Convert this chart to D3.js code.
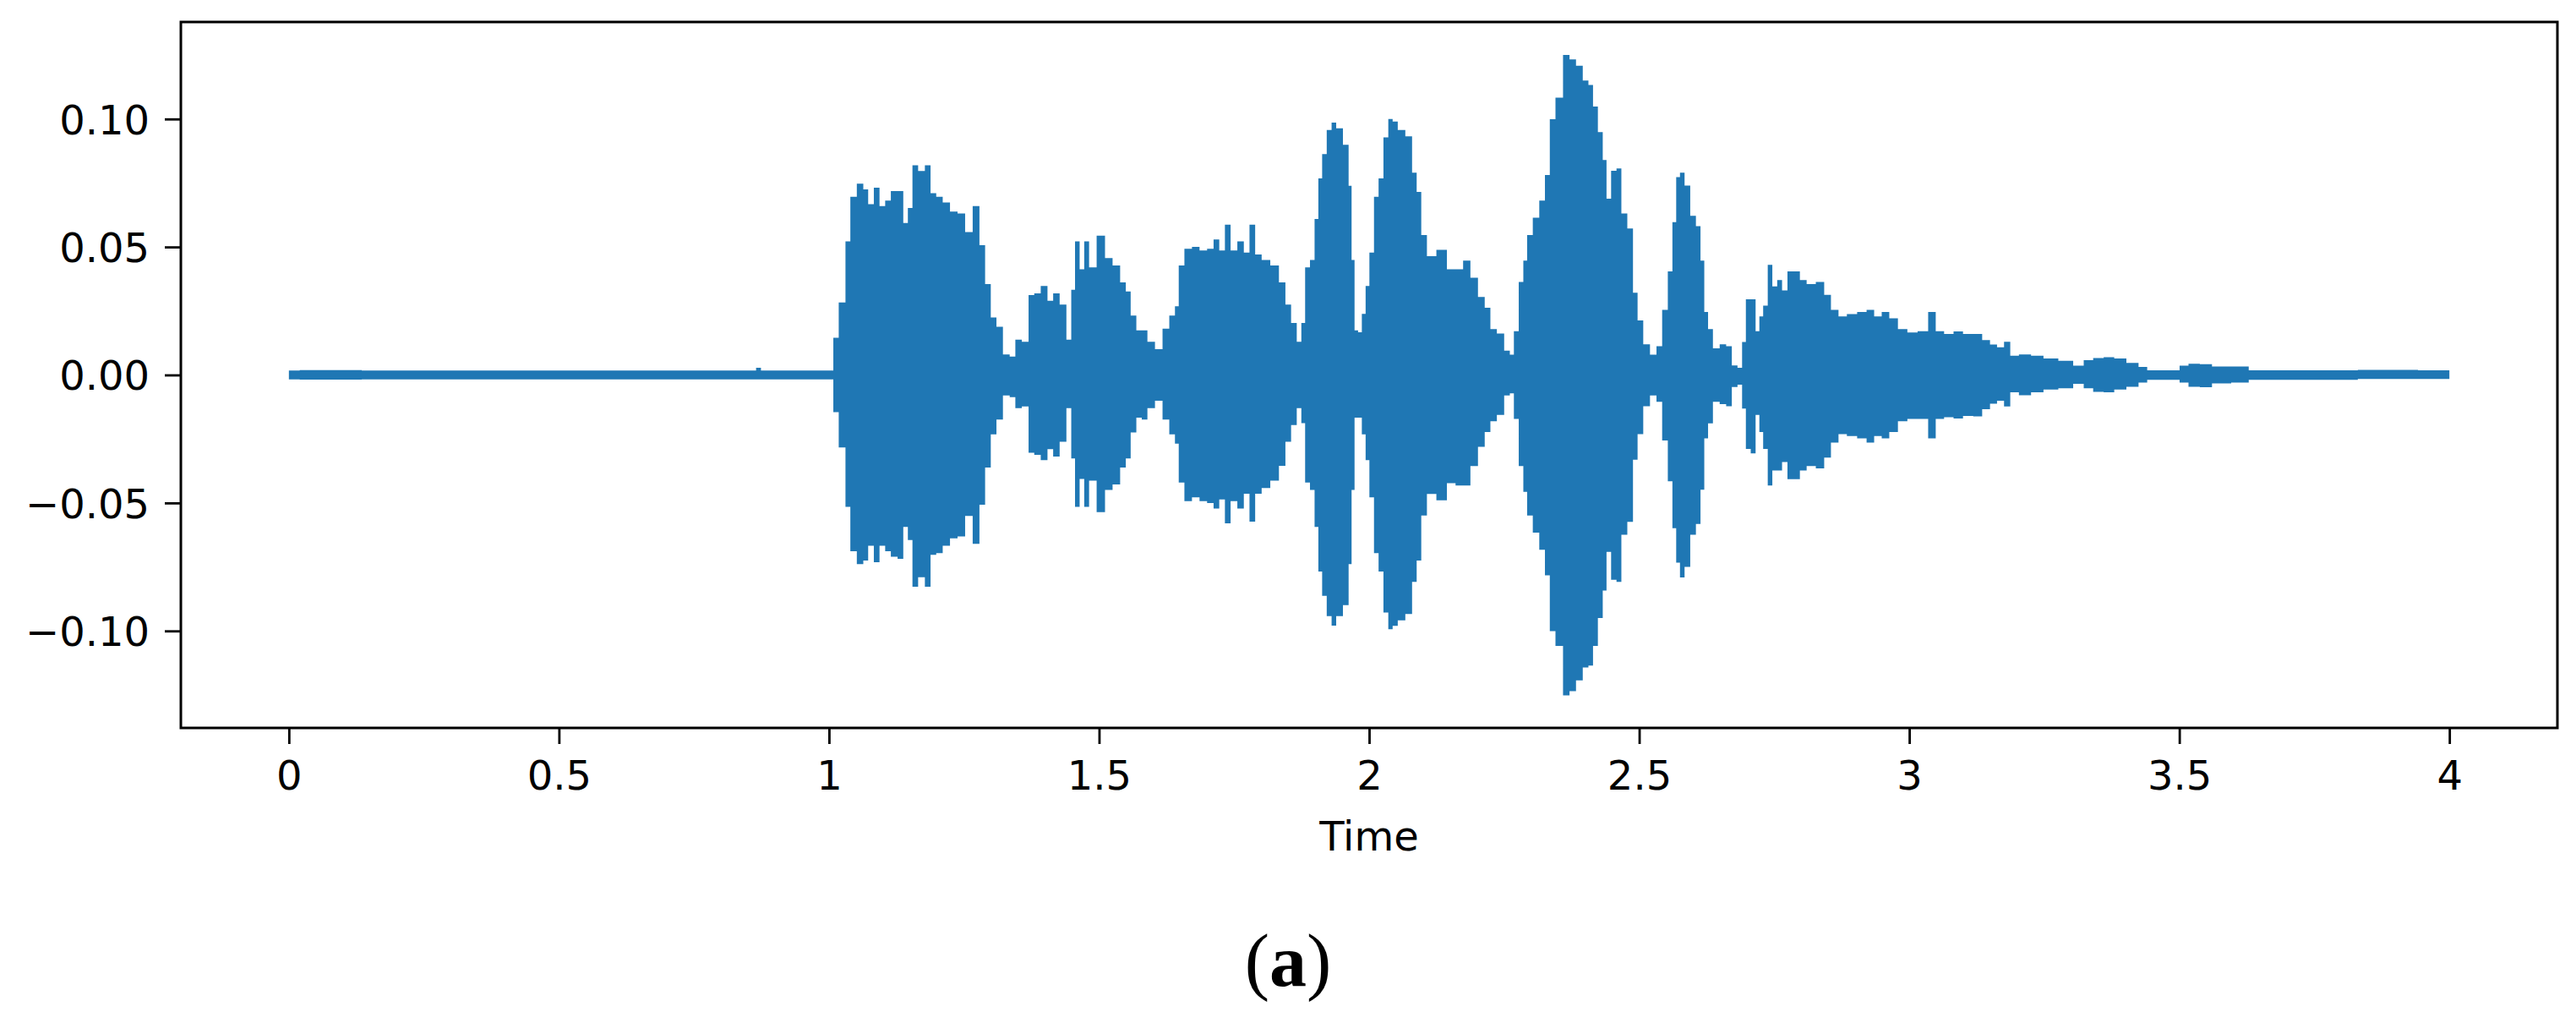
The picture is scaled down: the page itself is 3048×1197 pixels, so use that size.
<!DOCTYPE html>
<html><head><meta charset="utf-8">
<script src="https://cdn.jsdelivr.net/npm/d3@7"></script>
<style>html,body{margin:0;padding:0;background:#fff;} svg{display:block}</style>
</head><body>
<svg id="chart" width="3048" height="1197"></svg>
<script>
// Waveform envelope: time (s), upper and lower amplitude
const time = [0.000,0.040,0.120,0.150,0.860,0.870,0.878,1.005,1.011,1.025,1.036,1.043,1.060,1.067,1.078,1.088,1.099,1.109,1.120,1.134,1.141,1.151,1.158,1.172,1.183,1.193,1.204,1.217,1.231,1.245,1.259,1.273,1.284,1.294,1.305,1.315,1.329,1.340,1.350,1.364,1.375,1.385,1.399,1.410,1.420,1.434,1.445,1.452,1.459,1.469,1.476,1.487,1.504,1.518,1.532,1.546,1.553,1.564,1.574,1.584,1.595,1.612,1.623,1.637,1.644,1.651,1.665,1.679,1.693,1.707,1.717,1.728,1.738,1.749,1.763,1.773,1.784,1.794,1.808,1.826,1.840,1.850,1.861,1.871,1.878,1.885,1.896,1.902,1.910,1.916,1.927,1.934,1.944,1.959,1.965,1.970,1.976,1.983,1.990,1.997,2.004,2.014,2.021,2.032,2.039,2.048,2.058,2.076,2.083,2.093,2.100,2.114,2.135,2.153,2.167,2.181,2.194,2.209,2.219,2.230,2.243,2.257,2.264,2.272,2.282,2.289,2.296,2.310,2.320,2.331,2.338,2.352,2.366,2.376,2.390,2.401,2.411,2.418,2.429,2.436,2.443,2.453,2.463,2.471,2.485,2.492,2.502,2.513,2.527,2.537,2.548,2.558,2.565,2.572,2.579,2.589,2.600,2.610,2.617,2.624,2.631,2.642,2.656,2.666,2.677,2.687,2.694,2.701,2.712,2.719,2.726,2.733,2.743,2.750,2.761,2.768,2.781,2.792,2.803,2.817,2.837,2.848,2.862,2.876,2.893,2.914,2.928,2.942,2.956,2.970,2.988,3.005,3.026,3.044,3.054,3.075,3.089,3.110,3.127,3.143,3.156,3.169,3.182,3.192,3.214,3.237,3.260,3.292,3.315,3.331,3.350,3.370,3.389,3.415,3.434,3.447,3.492,3.509,3.525,3.551,3.570,3.622,3.635,3.777,3.884,4.000];
const upper = [0.0017,0.0019,0.0019,0.0017,0.0017,0.0028,0.0017,0.0017,0.0145,0.0283,0.0522,0.0696,0.0747,0.0725,0.0667,0.0732,0.0660,0.0681,0.0718,0.0718,0.0594,0.0652,0.0819,0.0797,0.0819,0.0710,0.0696,0.0674,0.0638,0.0631,0.0558,0.0660,0.0507,0.0355,0.0225,0.0188,0.0080,0.0072,0.0138,0.0130,0.0312,0.0319,0.0348,0.0290,0.0319,0.0275,0.0138,0.0333,0.0522,0.0413,0.0522,0.0420,0.0544,0.0457,0.0428,0.0362,0.0326,0.0232,0.0174,0.0174,0.0130,0.0101,0.0181,0.0232,0.0268,0.0428,0.0493,0.0500,0.0486,0.0493,0.0529,0.0486,0.0587,0.0486,0.0522,0.0478,0.0587,0.0471,0.0449,0.0428,0.0362,0.0275,0.0203,0.0130,0.0203,0.0420,0.0449,0.0609,0.0768,0.0863,0.0957,0.0986,0.0964,0.0899,0.0739,0.0449,0.0174,0.0167,0.0239,0.0348,0.0478,0.0696,0.0768,0.0928,0.1000,0.0990,0.0957,0.0932,0.0790,0.0715,0.0547,0.0464,0.0489,0.0413,0.0413,0.0447,0.0380,0.0305,0.0263,0.0179,0.0162,0.0095,0.0079,0.0171,0.0363,0.0447,0.0547,0.0614,0.0681,0.0781,0.0999,0.1083,0.1250,0.1233,0.1208,0.1150,0.1133,0.1049,0.0949,0.0840,0.0689,0.0798,0.0807,0.0631,0.0572,0.0321,0.0213,0.0120,0.0079,0.0112,0.0254,0.0405,0.0597,0.0773,0.0790,0.0740,0.0622,0.0581,0.0447,0.0246,0.0179,0.0104,0.0120,0.0112,0.0037,0.0028,0.0129,0.0296,0.0296,0.0171,0.0229,0.0271,0.0430,0.0346,0.0371,0.0330,0.0405,0.0405,0.0371,0.0355,0.0363,0.0313,0.0254,0.0229,0.0238,0.0246,0.0254,0.0229,0.0246,0.0221,0.0179,0.0166,0.0171,0.0246,0.0171,0.0160,0.0170,0.0160,0.0160,0.0136,0.0119,0.0108,0.0130,0.0075,0.0080,0.0075,0.0064,0.0055,0.0036,0.0058,0.0066,0.0069,0.0064,0.0047,0.0031,0.0018,0.0018,0.0036,0.0044,0.0042,0.0033,0.0033,0.0018,0.0018,0.0020,0.0018];
const lower = [-0.0017,-0.0018,-0.0018,-0.0017,-0.0017,-0.0017,-0.0017,-0.0017,-0.0145,-0.0283,-0.0515,-0.0689,-0.0739,-0.0725,-0.0667,-0.0732,-0.0667,-0.0689,-0.0710,-0.0718,-0.0594,-0.0645,-0.0827,-0.0790,-0.0827,-0.0703,-0.0696,-0.0667,-0.0638,-0.0631,-0.0551,-0.0660,-0.0507,-0.0362,-0.0232,-0.0174,-0.0080,-0.0087,-0.0130,-0.0123,-0.0304,-0.0312,-0.0333,-0.0290,-0.0319,-0.0261,-0.0130,-0.0326,-0.0515,-0.0406,-0.0515,-0.0413,-0.0536,-0.0449,-0.0428,-0.0362,-0.0326,-0.0225,-0.0167,-0.0174,-0.0130,-0.0101,-0.0174,-0.0232,-0.0268,-0.0420,-0.0493,-0.0478,-0.0493,-0.0500,-0.0522,-0.0486,-0.0580,-0.0493,-0.0522,-0.0464,-0.0573,-0.0464,-0.0442,-0.0413,-0.0355,-0.0261,-0.0196,-0.0130,-0.0188,-0.0420,-0.0449,-0.0594,-0.0768,-0.0863,-0.0942,-0.0979,-0.0942,-0.0899,-0.0739,-0.0449,-0.0167,-0.0167,-0.0232,-0.0333,-0.0478,-0.0696,-0.0768,-0.0928,-0.0993,-0.0980,-0.0959,-0.0934,-0.0808,-0.0725,-0.0549,-0.0465,-0.0490,-0.0423,-0.0432,-0.0432,-0.0356,-0.0281,-0.0223,-0.0181,-0.0156,-0.0080,-0.0072,-0.0172,-0.0356,-0.0457,-0.0549,-0.0616,-0.0683,-0.0783,-0.1001,-0.1059,-0.1252,-0.1235,-0.1193,-0.1143,-0.1135,-0.1059,-0.0950,-0.0842,-0.0691,-0.0800,-0.0808,-0.0624,-0.0574,-0.0331,-0.0231,-0.0122,-0.0080,-0.0105,-0.0256,-0.0415,-0.0599,-0.0733,-0.0791,-0.0750,-0.0624,-0.0582,-0.0448,-0.0248,-0.0189,-0.0105,-0.0114,-0.0122,-0.0047,-0.0038,-0.0131,-0.0289,-0.0306,-0.0156,-0.0223,-0.0289,-0.0432,-0.0373,-0.0373,-0.0340,-0.0407,-0.0407,-0.0373,-0.0356,-0.0365,-0.0323,-0.0264,-0.0231,-0.0239,-0.0248,-0.0264,-0.0239,-0.0248,-0.0223,-0.0181,-0.0172,-0.0172,-0.0248,-0.0172,-0.0165,-0.0170,-0.0160,-0.0162,-0.0134,-0.0112,-0.0101,-0.0123,-0.0068,-0.0079,-0.0068,-0.0057,-0.0052,-0.0035,-0.0052,-0.0066,-0.0068,-0.0057,-0.0046,-0.0030,-0.0019,-0.0019,-0.0030,-0.0046,-0.0048,-0.0033,-0.0030,-0.0019,-0.0019,-0.0016,-0.0016];

const xTicks = [0, 0.5, 1, 1.5, 2, 2.5, 3, 3.5, 4];
const xTickLabels = ["0", "0.5", "1", "1.5", "2", "2.5", "3", "3.5", "4"];
const yTicks = [0.10, 0.05, 0.00, -0.05, -0.10];
const yTickLabels = ["0.10", "0.05", "0.00", "\u22120.05", "\u22120.10"];
const xAxisTitle = "Time";
const captionParts = ["(", "a", ")"];

const W = 3048, H = 1197;
const frame = {left: 214, right: 3026, top: 26, bottom: 861};
const svg = d3.select("#chart");
svg.append("rect").attr("width", W).attr("height", H).attr("fill", "#fff");

const x = d3.scaleLinear().domain([-0.2, 4.2]).range([frame.left, frame.right]);
const y = d3.scaleLinear().domain([-0.1379, 0.1379]).range([frame.bottom, frame.top]);

const data = time.map((t, i) => ({t: t, hi: upper[i], lo: lower[i]}));
const area = d3.area()
  .x(d => x(d.t))
  .y0(d => y(d.lo))
  .y1(d => y(d.hi))
  .curve(d3.curveStep);
svg.append("path").datum(data).attr("d", area).attr("fill", "#1f77b4");

const font = "'DejaVu Sans', sans-serif";
// X axis
const xAxis = d3.axisBottom(x).tickValues(xTicks)
  .tickFormat((d, i) => xTickLabels[i]).tickSizeInner(19).tickSizeOuter(0).tickPadding(20);
const gx = svg.append("g").attr("transform", `translate(0,${frame.bottom})`).call(xAxis);
gx.select(".domain").remove();
gx.selectAll(".tick line").attr("stroke", "#000").attr("stroke-width", 2.8);
gx.selectAll(".tick text").attr("font-family", font).attr("font-size", 48).attr("fill", "#000");

// Y axis
const yAxis = d3.axisLeft(y).tickValues(yTicks)
  .tickFormat((d, i) => yTickLabels[i]).tickSizeInner(19).tickSizeOuter(0).tickPadding(18);
const gy = svg.append("g").attr("transform", `translate(${frame.left},0)`).call(yAxis);
gy.select(".domain").remove();
gy.selectAll(".tick line").attr("stroke", "#000").attr("stroke-width", 2.8);
gy.selectAll(".tick text").attr("font-family", font).attr("font-size", 48).attr("fill", "#000").attr("dy", "0.36em");

// Frame
svg.append("rect")
  .attr("x", frame.left).attr("y", frame.top)
  .attr("width", frame.right - frame.left).attr("height", frame.bottom - frame.top)
  .attr("fill", "none").attr("stroke", "#000").attr("stroke-width", 3);

// Axis title
svg.append("text").attr("x", (frame.left + frame.right) / 2).attr("y", 1006)
  .attr("text-anchor", "middle").attr("font-family", font).attr("font-size", 48)
  .attr("fill", "#000").text(xAxisTitle);

// Caption
const cap = svg.append("text").attr("x", W / 2).attr("y", 1166)
  .attr("text-anchor", "middle").attr("font-family", "'Liberation Serif', 'Times New Roman', serif")
  .attr("font-size", 88).attr("fill", "#000");
cap.append("tspan").text(captionParts[0]);
cap.append("tspan").attr("font-weight", "bold").text(captionParts[1]);
cap.append("tspan").text(captionParts[2]);
</script>
</body></html>
